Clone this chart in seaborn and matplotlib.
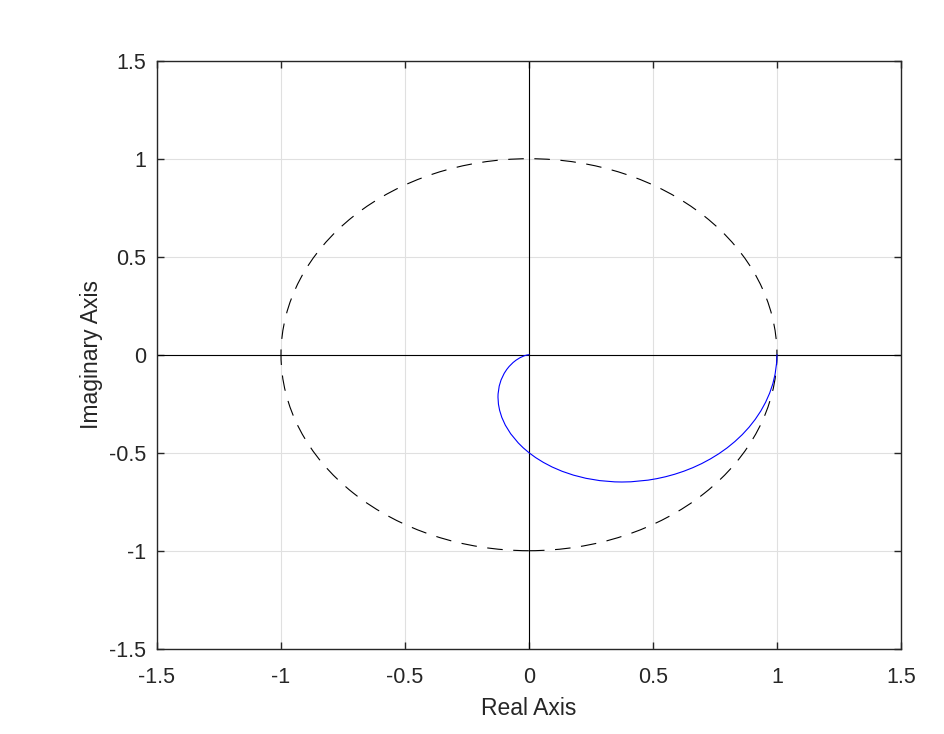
import seaborn as sns
import matplotlib.pyplot as plt
import pandas as pd
from matplotlib.patches import Circle

# Nyquist curve points (positive frequencies)
real_part = [1.0, 0.9988, 0.9925, 0.9833, 0.9705, 0.9543, 0.9350, 0.9126, 0.8876,
             0.8601, 0.8304, 0.7990, 0.7659, 0.7316, 0.6964, 0.6605, 0.6243, 0.5878,
             0.5515, 0.5155, 0.48, 0.4111, 0.375, 0.3460, 0.2854, 0.2297, 0.1792,
             0.1338, 0.0935, 0.0580, 0.0269, 0.0, -0.0232, -0.0430, -0.0739, -0.0954,
             -0.1096, -0.1183, -0.1231, -0.125, -0.1246, -0.12, -0.1126, -0.0999,
             -0.0895, -0.08, -0.0641, -0.0519, -0.0355, -0.0192, -0.0097, -0.0025, 0.0]
imag_part = [0.0, -0.0400, -0.0995, -0.1483, -0.1961, -0.2424, -0.2869, -0.3295, -0.3698,
             -0.4077, -0.4429, -0.4754, -0.5050, -0.5317, -0.5556, -0.5765, -0.5945, -0.6098,
             -0.6224, -0.6324, -0.64, -0.6484, -0.6495, -0.6488, -0.6424, -0.6306, -0.6144,
             -0.5949, -0.5730, -0.5494, -0.5249, -0.5, -0.4751, -0.4504, -0.4031, -0.3593,
             -0.3196, -0.2840, -0.2525, -0.2165, -0.2003, -0.16, -0.1290, -0.0951,
             -0.0750, -0.06, -0.0399, -0.0277, -0.0148, -0.0056, -0.0020, -0.0003, 0.0]

unit_circle_center = (0.0, 0.0)
unit_circle_radius = 1.0

ticks = [-1.5, -1, -0.5, 0, 0.5, 1, 1.5]
tick_labels = ["-1.5", "-1", "-0.5", "0", "0.5", "1", "1.5"]

df = pd.DataFrame({"re": real_part, "im": imag_part})

sns.set_style("ticks")
plt.rcParams["font.family"] = ["Liberation Sans", "DejaVu Sans"]

fig = plt.figure(figsize=(9.44, 7.34), dpi=100)
ax = fig.add_axes([0.1663, 0.1162, 0.7881, 0.8011])

ax.grid(True, color="#e0e0e0", linewidth=0.8)
ax.set_axisbelow(True)
ax.axhline(0, color="black", linewidth=0.8, zorder=1)
ax.axvline(0, color="black", linewidth=0.8, zorder=1)

ax.add_patch(Circle(unit_circle_center, unit_circle_radius, fill=False,
                    edgecolor="black", linestyle=(0, (14, 9.5)), linewidth=0.8, zorder=2))

sns.lineplot(data=df, x="re", y="im", sort=False, estimator=None,
             color="blue", linewidth=0.8, ax=ax, zorder=3)

ax.set_xlim(-1.5, 1.5)
ax.set_ylim(-1.5, 1.5)
ax.set_xticks(ticks)
ax.set_xticklabels(tick_labels)
ax.set_yticks(ticks)
ax.set_yticklabels(tick_labels)
ax.tick_params(direction="in", top=True, right=True, length=5, width=1.0,
               labelsize=15.5, colors="#262626")
ax.tick_params(axis="x", pad=13)
ax.tick_params(axis="y", pad=8)
for side in ax.spines.values():
    side.set_color("#262626")
    side.set_linewidth(1.0)
    side.set_visible(True)

ax.set_xlabel("Real Axis", fontsize=16.5, color="#262626", labelpad=7)
ax.set_ylabel("Imaginary Axis", fontsize=16.5, color="#262626", labelpad=4)

fig.savefig("out.png", dpi=100)
